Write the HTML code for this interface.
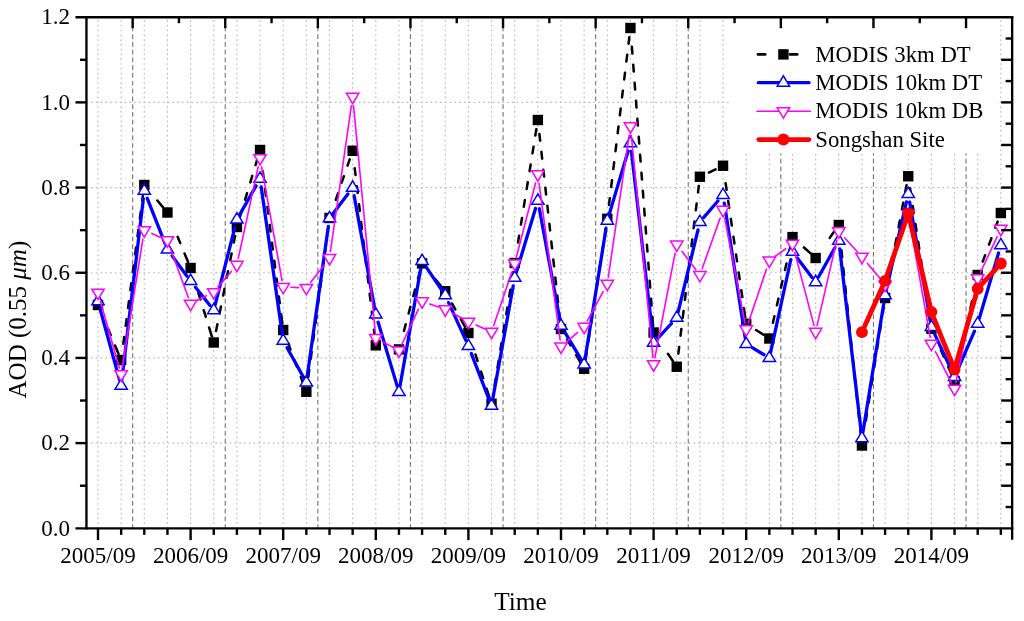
<!DOCTYPE html>
<html lang="en"><head><meta charset="utf-8"><title>AOD time series</title>
<style>html,body{margin:0;padding:0;background:#fff;}body{width:1024px;height:621px;overflow:hidden;}svg{display:block;}</style>
</head><body>
<svg width="1024" height="621" viewBox="0 0 1024 621">
<rect width="1024" height="621" fill="#fff"/>
<g stroke="#bcbcbc" stroke-width="1.15" stroke-dasharray="1.7 3.083" fill="none">
<line x1="98.00" y1="20.09" x2="98.00" y2="528.3"/>
<line x1="121.15" y1="20.09" x2="121.15" y2="528.3"/>
<line x1="144.30" y1="20.09" x2="144.30" y2="528.3"/>
<line x1="167.45" y1="20.09" x2="167.45" y2="528.3"/>
<line x1="190.60" y1="20.09" x2="190.60" y2="528.3"/>
<line x1="213.75" y1="20.09" x2="213.75" y2="528.3"/>
<line x1="236.90" y1="20.09" x2="236.90" y2="528.3"/>
<line x1="260.05" y1="20.09" x2="260.05" y2="528.3"/>
<line x1="283.20" y1="20.09" x2="283.20" y2="528.3"/>
<line x1="306.35" y1="20.09" x2="306.35" y2="528.3"/>
<line x1="329.50" y1="20.09" x2="329.50" y2="528.3"/>
<line x1="352.65" y1="20.09" x2="352.65" y2="528.3"/>
<line x1="375.80" y1="20.09" x2="375.80" y2="528.3"/>
<line x1="398.95" y1="20.09" x2="398.95" y2="528.3"/>
<line x1="422.10" y1="20.09" x2="422.10" y2="528.3"/>
<line x1="445.25" y1="20.09" x2="445.25" y2="528.3"/>
<line x1="468.40" y1="20.09" x2="468.40" y2="528.3"/>
<line x1="491.55" y1="20.09" x2="491.55" y2="528.3"/>
<line x1="514.70" y1="20.09" x2="514.70" y2="528.3"/>
<line x1="537.85" y1="20.09" x2="537.85" y2="528.3"/>
<line x1="561.00" y1="20.09" x2="561.00" y2="528.3"/>
<line x1="584.15" y1="20.09" x2="584.15" y2="528.3"/>
<line x1="607.30" y1="20.09" x2="607.30" y2="528.3"/>
<line x1="630.45" y1="20.09" x2="630.45" y2="528.3"/>
<line x1="653.60" y1="20.09" x2="653.60" y2="528.3"/>
<line x1="676.75" y1="20.09" x2="676.75" y2="528.3"/>
<line x1="699.90" y1="20.09" x2="699.90" y2="528.3"/>
<line x1="723.05" y1="20.09" x2="723.05" y2="528.3"/>
<line x1="746.20" y1="20.09" x2="746.20" y2="528.3"/>
<line x1="769.35" y1="20.09" x2="769.35" y2="528.3"/>
<line x1="792.50" y1="20.09" x2="792.50" y2="528.3"/>
<line x1="815.65" y1="20.09" x2="815.65" y2="528.3"/>
<line x1="838.80" y1="20.09" x2="838.80" y2="528.3"/>
<line x1="861.95" y1="20.09" x2="861.95" y2="528.3"/>
<line x1="885.10" y1="20.09" x2="885.10" y2="528.3"/>
<line x1="908.25" y1="20.09" x2="908.25" y2="528.3"/>
<line x1="931.40" y1="20.09" x2="931.40" y2="528.3"/>
<line x1="954.55" y1="20.09" x2="954.55" y2="528.3"/>
<line x1="977.70" y1="20.09" x2="977.70" y2="528.3"/>
<line x1="1000.85" y1="20.09" x2="1000.85" y2="528.3"/>
<line x1="86.15" y1="443.12" x2="1012.15" y2="443.12"/>
<line x1="86.15" y1="357.93" x2="1012.15" y2="357.93"/>
<line x1="86.15" y1="272.75" x2="1012.15" y2="272.75"/>
<line x1="86.15" y1="187.57" x2="1012.15" y2="187.57"/>
<line x1="86.15" y1="102.38" x2="1012.15" y2="102.38"/>
</g>
<g stroke="#747474" stroke-width="1.1" stroke-dasharray="4.7 3.08" fill="none">
<line x1="132.65" y1="18.66" x2="132.65" y2="528.3"/>
<line x1="225.25" y1="18.66" x2="225.25" y2="528.3"/>
<line x1="317.85" y1="18.66" x2="317.85" y2="528.3"/>
<line x1="410.45" y1="18.66" x2="410.45" y2="528.3"/>
<line x1="503.05" y1="18.66" x2="503.05" y2="528.3"/>
<line x1="595.65" y1="18.66" x2="595.65" y2="528.3"/>
<line x1="688.25" y1="18.66" x2="688.25" y2="528.3"/>
<line x1="780.85" y1="18.66" x2="780.85" y2="528.3"/>
<line x1="873.45" y1="18.66" x2="873.45" y2="528.3"/>
<line x1="966.05" y1="18.66" x2="966.05" y2="528.3"/>
</g>
<rect x="732" y="18" width="264.5" height="135.3" fill="#fff"/>
<path d="M115.04 345.48L118.61 353.97M108.04 328.85L110.68 335.11M142.23 200.61L143.09 194.16M139.87 218.51L140.76 211.77M137.50 236.40L138.39 229.66M135.13 254.30L136.02 247.56M132.77 272.19L133.66 265.45M130.40 290.08L131.29 283.34M128.03 307.98L128.92 301.24M125.66 325.87L126.56 319.13M123.30 343.77L124.19 337.03M157.31 200.45L163.12 207.36M184.54 253.46L188.08 261.97M177.59 236.80L180.21 243.08M209.08 327.46L211.82 336.29M203.72 310.22L205.74 316.72M198.36 292.99L200.38 299.48M233.80 242.44L235.09 236.04M230.26 260.14L231.59 253.47M226.71 277.84L228.05 271.17M223.16 295.54L224.50 288.87M219.62 313.23L220.95 306.57M216.07 330.93L217.40 324.27M255.52 165.08L257.41 158.79M250.32 182.37L252.28 175.86M245.12 199.65L247.08 193.14M239.92 216.94L241.88 210.43M281.19 314.38L282.38 323.59M278.89 296.48L279.76 303.22M276.59 278.57L277.45 285.32M274.28 260.67L275.15 267.42M271.98 242.77L272.85 249.51M269.68 224.87L270.55 231.61M267.38 206.96L268.24 213.71M265.07 189.06L265.94 195.81M262.77 171.16L263.64 177.90M300.82 377.00L304.06 385.64M294.48 360.10L296.87 366.47M288.15 343.20L290.54 349.57M327.42 233.61L328.28 227.15M325.04 251.50L325.93 244.76M322.65 269.40L323.55 262.66M320.27 287.29L321.17 280.55M317.88 305.18L318.78 298.44M315.50 323.07L316.40 316.33M313.12 340.96L314.01 334.22M310.73 358.86L311.63 352.11M308.35 376.75L309.25 370.01M347.52 165.64L349.67 159.41M341.65 182.71L343.86 176.28M335.77 199.78L337.99 193.35M373.94 329.66L375.04 338.89M371.81 311.74L372.61 318.49M369.67 293.81L370.48 300.57M367.54 275.89L368.34 282.64M365.41 257.97L366.21 264.72M363.28 240.04L364.08 246.79M361.14 222.12L361.95 228.87M359.01 204.20L359.81 210.95M356.88 186.27L357.68 193.02M354.74 168.35L355.55 175.10M418.01 278.61L419.71 272.28M413.31 296.04L415.08 289.47M408.62 313.47L410.39 306.90M403.93 330.90L405.70 324.33M435.18 279.14L440.96 286.09M460.76 319.23L465.20 327.24M452.01 303.44L455.31 309.39M486.65 388.78L489.53 397.57M481.04 371.63L483.15 378.09M475.43 354.47L477.54 360.93M512.14 278.54L513.20 272.11M509.21 296.35L510.32 289.64M506.28 314.16L507.39 307.45M503.36 331.97L504.46 325.26M500.43 349.78L501.53 343.07M497.50 367.59L498.60 360.88M494.57 385.41L495.67 378.70M535.33 135.55L536.38 129.11M532.45 153.37L533.54 146.65M529.56 171.18L530.65 164.47M526.68 189.00L527.77 182.29M523.79 206.82L524.88 200.11M520.91 224.64L522.00 217.93M518.03 242.46L519.11 235.74M559.27 313.35L560.29 322.58M557.28 295.41L558.03 302.16M555.29 277.47L556.04 284.22M553.30 259.52L554.05 266.28M551.32 241.58L552.07 248.34M549.33 223.64L550.08 230.40M547.34 205.70L548.09 212.46M545.36 187.76L546.10 194.52M543.37 169.82L544.12 176.58M541.38 151.88L542.13 158.64M539.39 133.94L540.14 140.70M576.22 355.14L580.83 363.04M567.14 339.54L570.56 345.42M604.90 234.32L605.89 227.87M602.14 252.15L603.18 245.43M599.39 269.99L600.43 263.27M596.64 287.83L597.68 281.11M593.89 305.67L594.92 298.95M591.13 323.51L592.17 316.79M588.38 341.35L589.42 334.63M585.63 359.19L586.66 352.47M628.55 43.64L629.34 37.17M626.38 61.55L627.20 54.80M624.20 79.47L625.02 72.72M622.03 97.39L622.85 90.64M619.85 115.31L620.67 108.56M617.68 133.23L618.50 126.48M615.50 151.15L616.32 144.40M613.33 169.06L614.15 162.31M611.16 186.98L611.97 180.23M608.98 204.90L609.80 198.15M652.41 316.80L653.11 326.07M651.04 298.80L651.55 305.58M649.67 280.80L650.18 287.58M648.30 262.80L648.82 269.58M646.93 244.80L647.45 251.58M645.56 226.81L646.08 233.59M644.20 208.81L644.71 215.59M642.83 190.81L643.34 197.59M641.46 172.81L641.97 179.59M640.09 154.81L640.61 161.59M638.72 136.81L639.24 143.60M637.35 118.82L637.87 125.60M635.99 100.82L636.50 107.60M634.62 82.82L635.13 89.60M633.25 64.82L633.76 71.60M631.88 46.82L632.40 53.60M667.93 353.70L673.03 361.25M698.00 192.38L698.78 185.92M695.81 210.30L696.63 203.55M693.63 228.22L694.45 221.47M691.45 246.14L692.27 239.39M689.26 264.05L690.09 257.30M687.08 281.97L687.90 275.22M684.90 299.89L685.72 293.14M682.71 317.81L683.54 311.06M680.53 335.72L681.35 328.97M678.35 353.64L679.17 346.89M708.82 172.51L715.53 169.32M743.92 308.17L745.26 317.36M741.30 290.31L742.29 297.04M738.68 272.45L739.67 279.18M736.07 254.59L737.05 261.32M733.45 236.73L734.44 243.46M730.83 218.87L731.82 225.60M728.22 201.01L729.20 207.74M725.60 183.15L726.59 189.88M756.07 330.04L763.45 334.74M788.99 252.45L790.45 246.08M784.98 270.05L786.49 263.42M780.96 287.65L782.47 281.02M776.94 305.25L778.46 298.62M772.92 322.84L774.44 316.21M803.96 247.45L810.58 253.42M829.75 237.89L833.66 232.32M860.31 429.84L861.28 439.08M858.42 411.88L859.13 418.65M856.54 393.93L857.25 400.70M854.65 375.98L855.36 382.74M852.77 358.03L853.48 364.79M850.88 340.08L851.59 346.84M849.00 322.13L849.71 328.89M847.11 304.18L847.82 310.94M845.23 286.23L845.94 292.99M843.34 268.27L844.05 275.04M841.46 250.32L842.17 257.09M882.66 313.56L883.67 307.12M879.86 331.39L880.91 324.67M877.06 349.22L878.11 342.51M874.26 367.05L875.32 360.34M871.46 384.89L872.52 378.17M868.66 402.72L869.72 396.00M865.87 420.55L866.92 413.83M905.31 191.72L906.53 185.31M901.94 209.46L903.21 202.77M898.56 227.19L899.83 220.51M895.19 244.92L896.46 238.24M891.82 262.65L893.09 255.97M888.45 280.38L889.72 273.70M929.04 313.18L930.43 322.36M926.33 295.33L927.35 302.06M923.62 277.49L924.64 284.21M920.91 259.64L921.93 266.36M918.20 241.80L919.22 248.52M915.49 223.95L916.51 230.67M912.78 206.11L913.80 212.83M910.07 188.26L911.09 194.98M948.20 366.84L951.91 375.26M940.91 350.32L943.66 356.55M974.35 290.39L975.74 284.00M970.50 308.03L971.95 301.38M966.66 325.66L968.11 319.02M962.82 343.30L964.27 336.65M958.98 360.93L960.42 354.29M995.34 227.75L997.65 221.57M989.03 244.66L991.41 238.29M982.71 261.57L985.09 255.20" stroke="#000" stroke-width="2.5" stroke-linecap="round" fill="none"/>
<g fill="#000">
<rect x="92.80" y="299.80" width="10.4" height="10.4"/>
<rect x="115.95" y="354.80" width="10.4" height="10.4"/>
<rect x="139.10" y="179.80" width="10.4" height="10.4"/>
<rect x="162.25" y="207.30" width="10.4" height="10.4"/>
<rect x="185.40" y="262.80" width="10.4" height="10.4"/>
<rect x="208.55" y="337.30" width="10.4" height="10.4"/>
<rect x="231.70" y="221.80" width="10.4" height="10.4"/>
<rect x="254.85" y="144.80" width="10.4" height="10.4"/>
<rect x="278.00" y="324.80" width="10.4" height="10.4"/>
<rect x="301.15" y="386.55" width="10.4" height="10.4"/>
<rect x="324.30" y="212.80" width="10.4" height="10.4"/>
<rect x="347.45" y="145.55" width="10.4" height="10.4"/>
<rect x="370.60" y="340.10" width="10.4" height="10.4"/>
<rect x="393.75" y="344.20" width="10.4" height="10.4"/>
<rect x="416.90" y="258.20" width="10.4" height="10.4"/>
<rect x="440.05" y="286.05" width="10.4" height="10.4"/>
<rect x="463.20" y="327.80" width="10.4" height="10.4"/>
<rect x="486.35" y="398.55" width="10.4" height="10.4"/>
<rect x="509.50" y="257.80" width="10.4" height="10.4"/>
<rect x="532.65" y="114.80" width="10.4" height="10.4"/>
<rect x="555.80" y="323.80" width="10.4" height="10.4"/>
<rect x="578.95" y="363.55" width="10.4" height="10.4"/>
<rect x="602.10" y="213.55" width="10.4" height="10.4"/>
<rect x="625.25" y="22.80" width="10.4" height="10.4"/>
<rect x="648.40" y="327.30" width="10.4" height="10.4"/>
<rect x="671.55" y="361.55" width="10.4" height="10.4"/>
<rect x="694.70" y="171.55" width="10.4" height="10.4"/>
<rect x="717.85" y="160.55" width="10.4" height="10.4"/>
<rect x="741.00" y="318.55" width="10.4" height="10.4"/>
<rect x="764.15" y="333.30" width="10.4" height="10.4"/>
<rect x="787.30" y="231.90" width="10.4" height="10.4"/>
<rect x="810.45" y="252.80" width="10.4" height="10.4"/>
<rect x="833.60" y="219.80" width="10.4" height="10.4"/>
<rect x="856.75" y="440.30" width="10.4" height="10.4"/>
<rect x="879.90" y="292.80" width="10.4" height="10.4"/>
<rect x="903.05" y="171.05" width="10.4" height="10.4"/>
<rect x="926.20" y="323.55" width="10.4" height="10.4"/>
<rect x="949.35" y="376.05" width="10.4" height="10.4"/>
<rect x="972.50" y="269.80" width="10.4" height="10.4"/>
<rect x="995.65" y="207.80" width="10.4" height="10.4"/>
</g>
<path d="M100.16 309.26L119.61 380.12M121.83 379.98L143.33 198.88M147.27 198.29L165.30 244.04M172.15 255.89L187.05 276.17M195.50 287.20L210.02 305.58M215.19 304.65L234.88 227.40M239.84 214.35L256.08 185.82M261.21 186.95L282.38 335.00M287.09 347.77L303.48 377.32M307.16 376.75L328.36 226.36M333.13 213.46L347.87 194.01M354.12 195.74L374.76 308.78M378.13 322.30L397.28 386.40M399.96 386.27L420.68 269.05M426.56 267.60L441.90 290.30M448.60 302.60L465.96 340.64M471.33 353.56L489.43 400.28M492.59 400.03L513.24 285.80M516.38 272.16L535.51 208.55M539.34 208.79L559.94 320.03M565.10 332.62L581.10 359.40M585.07 358.76L606.00 228.83M608.97 215.15L628.12 151.05M631.39 151.39L652.93 336.98M657.73 338.29L671.43 323.50M678.12 312.09L697.98 229.93M703.83 217.41L717.93 200.97M724.31 203.09L745.31 338.26M752.66 347.90L763.96 354.74M770.59 352.31L790.76 259.73M797.29 258.05L812.01 277.42M818.54 277.02L834.89 247.75M839.75 248.88L861.27 432.48M862.88 432.51L883.79 303.28M886.40 289.52L906.43 201.96M909.65 202.06L930.40 321.27M934.79 334.32L952.07 371.65M956.90 371.61L974.47 331.21M979.35 318.20L998.55 253.06" stroke="#00f" stroke-width="3.3" stroke-linecap="round" fill="none"/>
<path d="M91.85 304.83L104.15 304.83L98.00 294.53ZM115.00 389.18L127.30 389.18L121.15 378.88ZM138.15 194.18L150.45 194.18L144.30 183.88ZM161.30 252.93L173.60 252.93L167.45 242.63ZM184.45 284.43L196.75 284.43L190.60 274.13ZM207.60 313.73L219.90 313.73L213.75 303.43ZM230.75 222.93L243.05 222.93L236.90 212.63ZM253.90 182.28L266.20 182.28L260.05 171.98ZM277.05 344.18L289.35 344.18L283.20 333.88ZM300.20 385.93L312.50 385.93L306.35 375.63ZM323.35 221.68L335.65 221.68L329.50 211.38ZM346.50 191.13L358.80 191.13L352.65 180.83ZM369.65 317.93L381.95 317.93L375.80 307.63ZM392.80 395.43L405.10 395.43L398.95 385.13ZM415.95 264.43L428.25 264.43L422.10 254.13ZM439.10 298.68L451.40 298.68L445.25 288.38ZM462.25 349.43L474.55 349.43L468.40 339.13ZM485.40 409.18L497.70 409.18L491.55 398.88ZM508.55 281.18L520.85 281.18L514.70 270.88ZM531.70 204.18L544.00 204.18L537.85 193.88ZM554.85 329.18L567.15 329.18L561.00 318.88ZM578.00 367.93L590.30 367.93L584.15 357.63ZM601.15 224.18L613.45 224.18L607.30 213.88ZM624.30 146.68L636.60 146.68L630.45 136.38ZM647.45 346.18L659.75 346.18L653.60 335.88ZM670.60 321.18L682.90 321.18L676.75 310.88ZM693.75 225.43L706.05 225.43L699.90 215.13ZM716.90 198.43L729.20 198.43L723.05 188.13ZM740.05 347.43L752.35 347.43L746.20 337.13ZM763.20 361.43L775.50 361.43L769.35 351.13ZM786.35 255.18L798.65 255.18L792.50 244.88ZM809.50 285.63L821.80 285.63L815.65 275.33ZM832.65 244.18L844.95 244.18L838.80 233.88ZM855.80 441.68L868.10 441.68L861.95 431.38ZM878.95 298.63L891.25 298.63L885.10 288.33ZM902.10 197.43L914.40 197.43L908.25 187.13ZM925.25 330.43L937.55 330.43L931.40 320.13ZM948.40 380.43L960.70 380.43L954.55 370.13ZM971.55 327.23L983.85 327.23L977.70 316.93ZM994.70 248.68L1007.00 248.68L1000.85 238.38Z" stroke="#00f" stroke-width="1.5" fill="#fff"/>
<path d="M100.44 301.21L119.34 367.91M122.20 367.77L142.87 239.17M151.83 233.55L160.80 237.43M170.50 248.68L188.32 297.54M197.01 300.56L206.37 295.83M218.18 286.88L231.29 271.42M238.30 258.33L258.15 166.86M261.64 166.94L282.03 280.49M290.95 287.30L298.70 287.60M310.53 282.51L324.16 264.94M330.44 251.51L351.37 105.69M353.51 105.75L375.17 331.48M383.10 341.99L392.65 347.15M401.80 344.49L418.33 309.33M429.76 303.95L438.33 306.91M452.56 313.22L462.09 318.32M475.92 324.98L484.91 328.90M493.69 325.50L511.83 272.00M516.37 257.13L535.60 182.97M539.05 183.21L560.12 340.00M566.30 342.03L577.66 332.33M587.34 320.88L603.11 291.58M608.26 277.26L629.14 135.19M631.32 135.25L652.96 357.73M654.86 357.80L675.05 253.36M682.03 251.49L695.78 269.58M702.13 268.72L720.07 218.21M724.76 218.61L744.94 322.80M748.32 322.99L766.50 269.01M775.05 256.43L785.66 248.75M794.78 252.46L813.96 325.38M817.14 325.34L836.79 240.04M844.61 237.70L857.33 251.71M867.51 263.47L880.72 279.34M887.17 278.28L905.47 222.39M909.83 222.74L930.24 337.29M935.45 351.67L951.48 382.83M955.91 382.32L975.86 287.08M980.54 272.23L997.09 236.84" stroke="#f0f" stroke-width="1.6" stroke-linecap="round" fill="none"/>
<path d="M91.85 289.17L104.15 289.17L98.00 299.47ZM115.00 370.87L127.30 370.87L121.15 381.17ZM138.15 226.87L150.45 226.87L144.30 237.17ZM161.30 236.87L173.60 236.87L167.45 247.17ZM184.45 300.37L196.75 300.37L190.60 310.67ZM207.60 288.67L219.90 288.67L213.75 298.97ZM230.75 261.37L243.05 261.37L236.90 271.67ZM253.90 154.67L266.20 154.67L260.05 164.97ZM277.05 283.57L289.35 283.57L283.20 293.87ZM300.20 284.47L312.50 284.47L306.35 294.77ZM323.35 254.62L335.65 254.62L329.50 264.92ZM346.50 93.37L358.80 93.37L352.65 103.67ZM369.65 334.62L381.95 334.62L375.80 344.92ZM392.80 347.12L405.10 347.12L398.95 357.42ZM415.95 297.87L428.25 297.87L422.10 308.17ZM439.10 305.87L451.40 305.87L445.25 316.17ZM462.25 318.27L474.55 318.27L468.40 328.57ZM485.40 328.37L497.70 328.37L491.55 338.67ZM508.55 260.12L520.85 260.12L514.70 270.42ZM531.70 170.87L544.00 170.87L537.85 181.17ZM554.85 343.12L567.15 343.12L561.00 353.42ZM578.00 323.37L590.30 323.37L584.15 333.67ZM601.15 280.37L613.45 280.37L607.30 290.67ZM624.30 122.87L636.60 122.87L630.45 133.17ZM647.45 360.87L659.75 360.87L653.60 371.17ZM670.60 241.12L682.90 241.12L676.75 251.42ZM693.75 271.57L706.05 271.57L699.90 281.87ZM716.90 206.37L729.20 206.37L723.05 216.67ZM740.05 325.87L752.35 325.87L746.20 336.17ZM763.20 257.12L775.50 257.12L769.35 267.42ZM786.35 240.37L798.65 240.37L792.50 250.67ZM809.50 328.37L821.80 328.37L815.65 338.67ZM832.65 227.87L844.95 227.87L838.80 238.17ZM855.80 253.37L868.10 253.37L861.95 263.67ZM878.95 281.17L891.25 281.17L885.10 291.47ZM902.10 210.47L914.40 210.47L908.25 220.77ZM925.25 340.37L937.55 340.37L931.40 350.67ZM948.40 385.37L960.70 385.37L954.55 395.67ZM971.55 274.87L983.85 274.87L977.70 285.17ZM994.70 225.37L1007.00 225.37L1000.85 235.67Z" stroke="#f0f" stroke-width="1.5" fill="#fff"/>
<path d="M864.62 326.28L882.43 286.82M887.21 274.75L906.14 219.55M909.74 219.73L929.91 305.67M933.83 318.03L952.12 363.47M956.34 363.25L975.91 295.00M982.09 283.96L996.46 268.29" stroke="#f00" stroke-width="4.8" stroke-linecap="round" fill="none"/>
<g fill="#f00">
<circle cx="861.95" cy="332.20" r="5.9"/>
<circle cx="885.10" cy="280.90" r="5.9"/>
<circle cx="908.25" cy="213.40" r="5.9"/>
<circle cx="931.40" cy="312.00" r="5.9"/>
<circle cx="954.55" cy="369.50" r="5.9"/>
<circle cx="977.70" cy="288.75" r="5.9"/>
<circle cx="1000.85" cy="263.50" r="5.9"/>
</g>
<g stroke="#000" stroke-width="2.35" fill="none" stroke-linecap="butt">
<line x1="75.45" y1="17.2" x2="1013.3249999999999" y2="17.2"/>
<line x1="75.45" y1="528.3" x2="1013.3249999999999" y2="528.3"/>
<line x1="86.45" y1="16.025" x2="86.45" y2="529.4749999999999"/>
<line x1="1012.15" y1="16.025" x2="1012.15" y2="539.8"/>
</g>
<g stroke="#000" stroke-width="2.4" fill="none">
<line x1="132.65" y1="17.2" x2="132.65" y2="28.2"/>
<line x1="178.95" y1="17.2" x2="178.95" y2="23.2"/>
<line x1="225.25" y1="17.2" x2="225.25" y2="28.2"/>
<line x1="271.55" y1="17.2" x2="271.55" y2="23.2"/>
<line x1="317.85" y1="17.2" x2="317.85" y2="28.2"/>
<line x1="364.15" y1="17.2" x2="364.15" y2="23.2"/>
<line x1="410.45" y1="17.2" x2="410.45" y2="28.2"/>
<line x1="456.75" y1="17.2" x2="456.75" y2="23.2"/>
<line x1="503.05" y1="17.2" x2="503.05" y2="28.2"/>
<line x1="549.35" y1="17.2" x2="549.35" y2="23.2"/>
<line x1="595.65" y1="17.2" x2="595.65" y2="28.2"/>
<line x1="641.95" y1="17.2" x2="641.95" y2="23.2"/>
<line x1="688.25" y1="17.2" x2="688.25" y2="28.2"/>
<line x1="734.55" y1="17.2" x2="734.55" y2="23.2"/>
<line x1="780.85" y1="17.2" x2="780.85" y2="28.2"/>
<line x1="827.15" y1="17.2" x2="827.15" y2="23.2"/>
<line x1="873.45" y1="17.2" x2="873.45" y2="28.2"/>
<line x1="919.75" y1="17.2" x2="919.75" y2="23.2"/>
<line x1="966.05" y1="17.2" x2="966.05" y2="28.2"/>
<line x1="98.00" y1="528.3" x2="98.00" y2="540.0999999999999"/>
<line x1="121.15" y1="528.3" x2="121.15" y2="534.9"/>
<line x1="144.30" y1="528.3" x2="144.30" y2="534.9"/>
<line x1="167.45" y1="528.3" x2="167.45" y2="534.9"/>
<line x1="190.60" y1="528.3" x2="190.60" y2="540.0999999999999"/>
<line x1="213.75" y1="528.3" x2="213.75" y2="534.9"/>
<line x1="236.90" y1="528.3" x2="236.90" y2="534.9"/>
<line x1="260.05" y1="528.3" x2="260.05" y2="534.9"/>
<line x1="283.20" y1="528.3" x2="283.20" y2="540.0999999999999"/>
<line x1="306.35" y1="528.3" x2="306.35" y2="534.9"/>
<line x1="329.50" y1="528.3" x2="329.50" y2="534.9"/>
<line x1="352.65" y1="528.3" x2="352.65" y2="534.9"/>
<line x1="375.80" y1="528.3" x2="375.80" y2="540.0999999999999"/>
<line x1="398.95" y1="528.3" x2="398.95" y2="534.9"/>
<line x1="422.10" y1="528.3" x2="422.10" y2="534.9"/>
<line x1="445.25" y1="528.3" x2="445.25" y2="534.9"/>
<line x1="468.40" y1="528.3" x2="468.40" y2="540.0999999999999"/>
<line x1="491.55" y1="528.3" x2="491.55" y2="534.9"/>
<line x1="514.70" y1="528.3" x2="514.70" y2="534.9"/>
<line x1="537.85" y1="528.3" x2="537.85" y2="534.9"/>
<line x1="561.00" y1="528.3" x2="561.00" y2="540.0999999999999"/>
<line x1="584.15" y1="528.3" x2="584.15" y2="534.9"/>
<line x1="607.30" y1="528.3" x2="607.30" y2="534.9"/>
<line x1="630.45" y1="528.3" x2="630.45" y2="534.9"/>
<line x1="653.60" y1="528.3" x2="653.60" y2="540.0999999999999"/>
<line x1="676.75" y1="528.3" x2="676.75" y2="534.9"/>
<line x1="699.90" y1="528.3" x2="699.90" y2="534.9"/>
<line x1="723.05" y1="528.3" x2="723.05" y2="534.9"/>
<line x1="746.20" y1="528.3" x2="746.20" y2="540.0999999999999"/>
<line x1="769.35" y1="528.3" x2="769.35" y2="534.9"/>
<line x1="792.50" y1="528.3" x2="792.50" y2="534.9"/>
<line x1="815.65" y1="528.3" x2="815.65" y2="534.9"/>
<line x1="838.80" y1="528.3" x2="838.80" y2="540.0999999999999"/>
<line x1="861.95" y1="528.3" x2="861.95" y2="534.9"/>
<line x1="885.10" y1="528.3" x2="885.10" y2="534.9"/>
<line x1="908.25" y1="528.3" x2="908.25" y2="534.9"/>
<line x1="931.40" y1="528.3" x2="931.40" y2="540.0999999999999"/>
<line x1="954.55" y1="528.3" x2="954.55" y2="534.9"/>
<line x1="977.70" y1="528.3" x2="977.70" y2="534.9"/>
<line x1="1000.85" y1="528.3" x2="1000.85" y2="534.9"/>
<line x1="86.45" y1="485.71" x2="79.95" y2="485.71"/>
<line x1="86.45" y1="443.12" x2="75.45" y2="443.12"/>
<line x1="86.45" y1="400.52" x2="79.95" y2="400.52"/>
<line x1="86.45" y1="357.93" x2="75.45" y2="357.93"/>
<line x1="86.45" y1="315.34" x2="79.95" y2="315.34"/>
<line x1="86.45" y1="272.75" x2="75.45" y2="272.75"/>
<line x1="86.45" y1="230.16" x2="79.95" y2="230.16"/>
<line x1="86.45" y1="187.57" x2="75.45" y2="187.57"/>
<line x1="86.45" y1="144.97" x2="79.95" y2="144.97"/>
<line x1="86.45" y1="102.38" x2="75.45" y2="102.38"/>
<line x1="86.45" y1="59.79" x2="79.95" y2="59.79"/>
<line x1="1012.15" y1="507.00" x2="1005.65" y2="507.00"/>
<line x1="1012.15" y1="485.71" x2="1001.15" y2="485.71"/>
<line x1="1012.15" y1="464.41" x2="1005.65" y2="464.41"/>
<line x1="1012.15" y1="443.12" x2="1001.15" y2="443.12"/>
<line x1="1012.15" y1="421.82" x2="1005.65" y2="421.82"/>
<line x1="1012.15" y1="400.52" x2="1001.15" y2="400.52"/>
<line x1="1012.15" y1="379.23" x2="1005.65" y2="379.23"/>
<line x1="1012.15" y1="357.93" x2="1001.15" y2="357.93"/>
<line x1="1012.15" y1="336.64" x2="1005.65" y2="336.64"/>
<line x1="1012.15" y1="315.34" x2="1001.15" y2="315.34"/>
<line x1="1012.15" y1="294.05" x2="1005.65" y2="294.05"/>
<line x1="1012.15" y1="272.75" x2="1001.15" y2="272.75"/>
<line x1="1012.15" y1="251.45" x2="1005.65" y2="251.45"/>
<line x1="1012.15" y1="230.16" x2="1001.15" y2="230.16"/>
<line x1="1012.15" y1="208.86" x2="1005.65" y2="208.86"/>
<line x1="1012.15" y1="187.57" x2="1001.15" y2="187.57"/>
<line x1="1012.15" y1="166.27" x2="1005.65" y2="166.27"/>
<line x1="1012.15" y1="144.97" x2="1001.15" y2="144.97"/>
<line x1="1012.15" y1="123.68" x2="1005.65" y2="123.68"/>
<line x1="1012.15" y1="102.38" x2="1001.15" y2="102.38"/>
<line x1="1012.15" y1="81.09" x2="1005.65" y2="81.09"/>
<line x1="1012.15" y1="59.79" x2="1001.15" y2="59.79"/>
<line x1="1012.15" y1="38.50" x2="1005.65" y2="38.50"/>
</g>
<g font-family="'Liberation Serif', 'Times New Roman', serif" fill="#000">
<g font-size="23" text-anchor="end">
<text x="70" y="535.50">0.0</text>
<text x="70" y="450.32">0.2</text>
<text x="70" y="365.13">0.4</text>
<text x="70" y="279.95">0.6</text>
<text x="70" y="194.77">0.8</text>
<text x="70" y="109.58">1.0</text>
<text x="70" y="24.40">1.2</text>
</g>
<g font-size="23" text-anchor="middle">
<text x="98.00" y="562.7">2005/09</text>
<text x="190.60" y="562.7">2006/09</text>
<text x="283.20" y="562.7">2007/09</text>
<text x="375.80" y="562.7">2008/09</text>
<text x="468.40" y="562.7">2009/09</text>
<text x="561.00" y="562.7">2010/09</text>
<text x="653.60" y="562.7">2011/09</text>
<text x="746.20" y="562.7">2012/09</text>
<text x="838.80" y="562.7">2013/09</text>
<text x="931.40" y="562.7">2014/09</text>
</g>
<g font-size="22.75">
<text x="815.3" y="61.9">MODIS 3km DT</text>
<text x="815.3" y="89.9">MODIS 10km DT</text>
<text x="815.3" y="118.4">MODIS 10km DB</text>
<text x="815.3" y="146.7">Songshan Site</text>
</g>
<text x="520.4" y="610" font-size="25.3" text-anchor="middle">Time</text>
<text transform="translate(26,319.6) rotate(-90)" font-size="25" text-anchor="middle">AOD (0.55 <tspan font-style="italic">μm</tspan>)</text>
</g>
<path d="M758 54.4H776.9M790.0 54.4H810.3" stroke="#000" stroke-width="2.8" stroke-dasharray="7.2 30" stroke-linecap="round" fill="none"/>
<rect x="778.1999999999999" y="49.199999999999996" width="10.4" height="10.4" fill="#000"/>
<path d="M758.3 82.7H809.0" stroke="#00f" stroke-width="3.3" stroke-linecap="round" fill="none"/>
<path d="M777.25 86.13L789.55 86.13L783.40 75.83Z" stroke="#00f" stroke-width="1.5" fill="#fff"/>
<path d="M757 111.2H810.3" stroke="#f0f" stroke-width="1.6" stroke-linecap="round" fill="none"/>
<path d="M777.25 107.77L789.55 107.77L783.40 118.07Z" stroke="#f0f" stroke-width="1.5" fill="#fff"/>
<path d="M758.8 139.6H808.9" stroke="#f00" stroke-width="4.8" stroke-linecap="round" fill="none"/>
<circle cx="783.4" cy="139.6" r="6" fill="#f00"/>
</svg>
</body></html>
